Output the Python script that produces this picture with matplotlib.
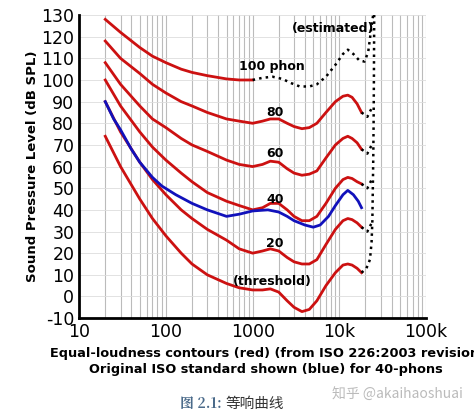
import matplotlib
matplotlib.use("Agg")
import matplotlib.pyplot as plt
import numpy as np
plt.rcParams["axes.unicode_minus"] = False

f_red = [20, 30, 50, 70, 100, 150, 200, 300, 500, 700, 1000, 1300, 1600, 2000, 2500, 3000, 3700, 4500, 5500, 7000, 9000, 11000, 12500, 14000, 16000, 18000]
phon0  = [74, 60, 45, 36, 28, 20, 15, 10, 6, 4, 3, 3, 3.5, 2, -2, -5, -7, -6, -2, 5, 11, 14.5, 15, 14.5, 13, 11]
phon20 = [90, 76, 62, 54, 47, 40, 36, 31, 26, 22, 20, 21, 22, 21, 18, 16, 15, 15, 17, 24, 31, 35, 36, 35.5, 34, 32]
phon40 = [100, 88, 76, 69, 63, 57, 53, 48, 44, 42, 40, 41, 43, 43, 40, 37, 35, 35, 37, 43, 50, 54, 55, 54.5, 53, 52]
phon60 = [108, 98, 88, 82, 78, 73, 70, 67, 63, 61, 60, 61, 62.5, 62, 59, 57, 56, 56.5, 58, 64, 70, 73, 74, 73, 71, 68]
phon80 = [118, 110, 103, 98, 94, 90, 88, 85, 82, 81, 80, 81, 82, 82, 80, 78.5, 77.5, 78, 80, 85, 90, 92.5, 93, 92, 89, 85]
f_100 = [20, 30, 50, 70, 100, 150, 200, 300, 500, 700, 1000]
phon100 = [128, 122, 115, 111, 108, 105, 103.5, 102, 100.5, 100, 100]
f_100est = [1000, 1300, 1700, 2200, 2800, 3500, 4500, 5500, 7000, 9000, 11000, 12500, 14500, 17000, 19500, 21500, 23000, 24500]
phon100est = [100, 101, 101.5, 100.5, 98.5, 97, 97, 98, 101.5, 107, 112, 114, 112, 109, 108.5, 113, 122, 130]
f_blue = [20, 25, 30, 40, 50, 70, 90, 130, 200, 300, 500, 700, 1000, 1500, 2000, 2500, 3000, 4000, 5000, 6000, 7500, 9000, 11000, 12500, 14500, 16500, 18000]
blue40 = [90, 82, 77, 68, 62, 55, 51, 47, 43, 40, 37, 38, 39.5, 40, 39, 37, 35, 33, 32, 33, 37, 42, 47, 49, 47, 44, 41]
f_edge = [18000, 20500, 22500, 23500, 24000, 24200, 24400, 24600, 24800, 25000, 25200]
y_edge = [11, 13, 17, 25, 35, 45, 55, 65, 80, 100, 130]
ends = [(18000, 32), (18000, 52), (18000, 68), (18000, 85)]

fig = plt.figure(figsize=(4.74, 4.18), dpi=100)
ax = fig.add_axes([0.167, 0.239, 0.732, 0.725])
ax.set_xscale("log")
ax.set_xlim(10, 100000)
ax.set_ylim(-10, 130)
ax.grid(True, which="both", axis="x", color="#bbbbbb", lw=0.8)
ax.grid(True, which="major", axis="y", color="#dddddd", lw=0.6)
ax.set_yticks(range(-10, 131, 10))
ax.set_xticks([10, 100, 1000, 10000, 100000])
ax.set_xticklabels(["10", "100", "1000", "10k", "100k"])
ax.tick_params(axis="both", labelsize=12.5, length=0)
ax.tick_params(axis="x", which="minor", length=0)
for s in ["top", "right"]:
    ax.spines[s].set_visible(False)
for s in ["left", "bottom"]:
    ax.spines[s].set_linewidth(2)

red = "#cc1111"
for y in [phon0, phon20, phon40, phon60, phon80]:
    ax.plot(f_red, y, color=red, lw=2)
ax.plot(f_100, phon100, color=red, lw=2)
ax.plot(f_100est, phon100est, color="black", lw=1.8, ls=":")
ax.plot(f_blue, blue40, color="#1111bb", lw=2)
ax.plot(f_edge, y_edge, color="black", lw=1.8, ls=":")
for fx, yv in ends:
    ax.plot([fx, 21000, 24300], [yv, yv - 2, yv + 3], color="black", lw=1.8, ls=":")

bold = dict(fontsize=9, fontweight="bold")
ax.text(1650, 103, "100 phon", ha="center", va="bottom", **bold)
ax.text(1800, 82, "80", ha="center", va="bottom", **bold)
ax.text(1800, 63, "60", ha="center", va="bottom", **bold)
ax.text(1800, 42, "40", ha="center", va="bottom", **bold)
ax.text(1800, 21.5, "20", ha="center", va="bottom", **bold)
ax.text(1700, 4, "(threshold)", ha="center", va="bottom", **bold)
ax.text(8500, 124, "(estimated)", ha="center", va="center", **bold)
ax.set_ylabel("Sound Pressure Level (dB SPL)", fontsize=9.5, fontweight="bold", labelpad=2)

fig.text(0.105, 0.145, "Equal-loudness contours (red) (from ISO 226:2003 revision)", fontsize=9.3, fontweight="bold")
fig.text(0.188, 0.108, "Original ISO standard shown (blue) for 40-phons", fontsize=9.3, fontweight="bold")
fig.text(0.38, 0.025, "图 2.1:", fontsize=10, color="#4a6a8a", family=["Noto Serif CJK SC", "DejaVu Serif"], fontweight="bold")
fig.text(0.475, 0.025, "等响曲线", fontsize=10.5, color="#333333", family=["Noto Sans CJK SC", "DejaVu Sans"])
fig.text(0.70, 0.045, "知乎 @akaihaoshuai", fontsize=10, color="#bbbbbb", family=["Noto Sans CJK SC", "DejaVu Sans"])
fig.savefig("out.png", dpi=100)
